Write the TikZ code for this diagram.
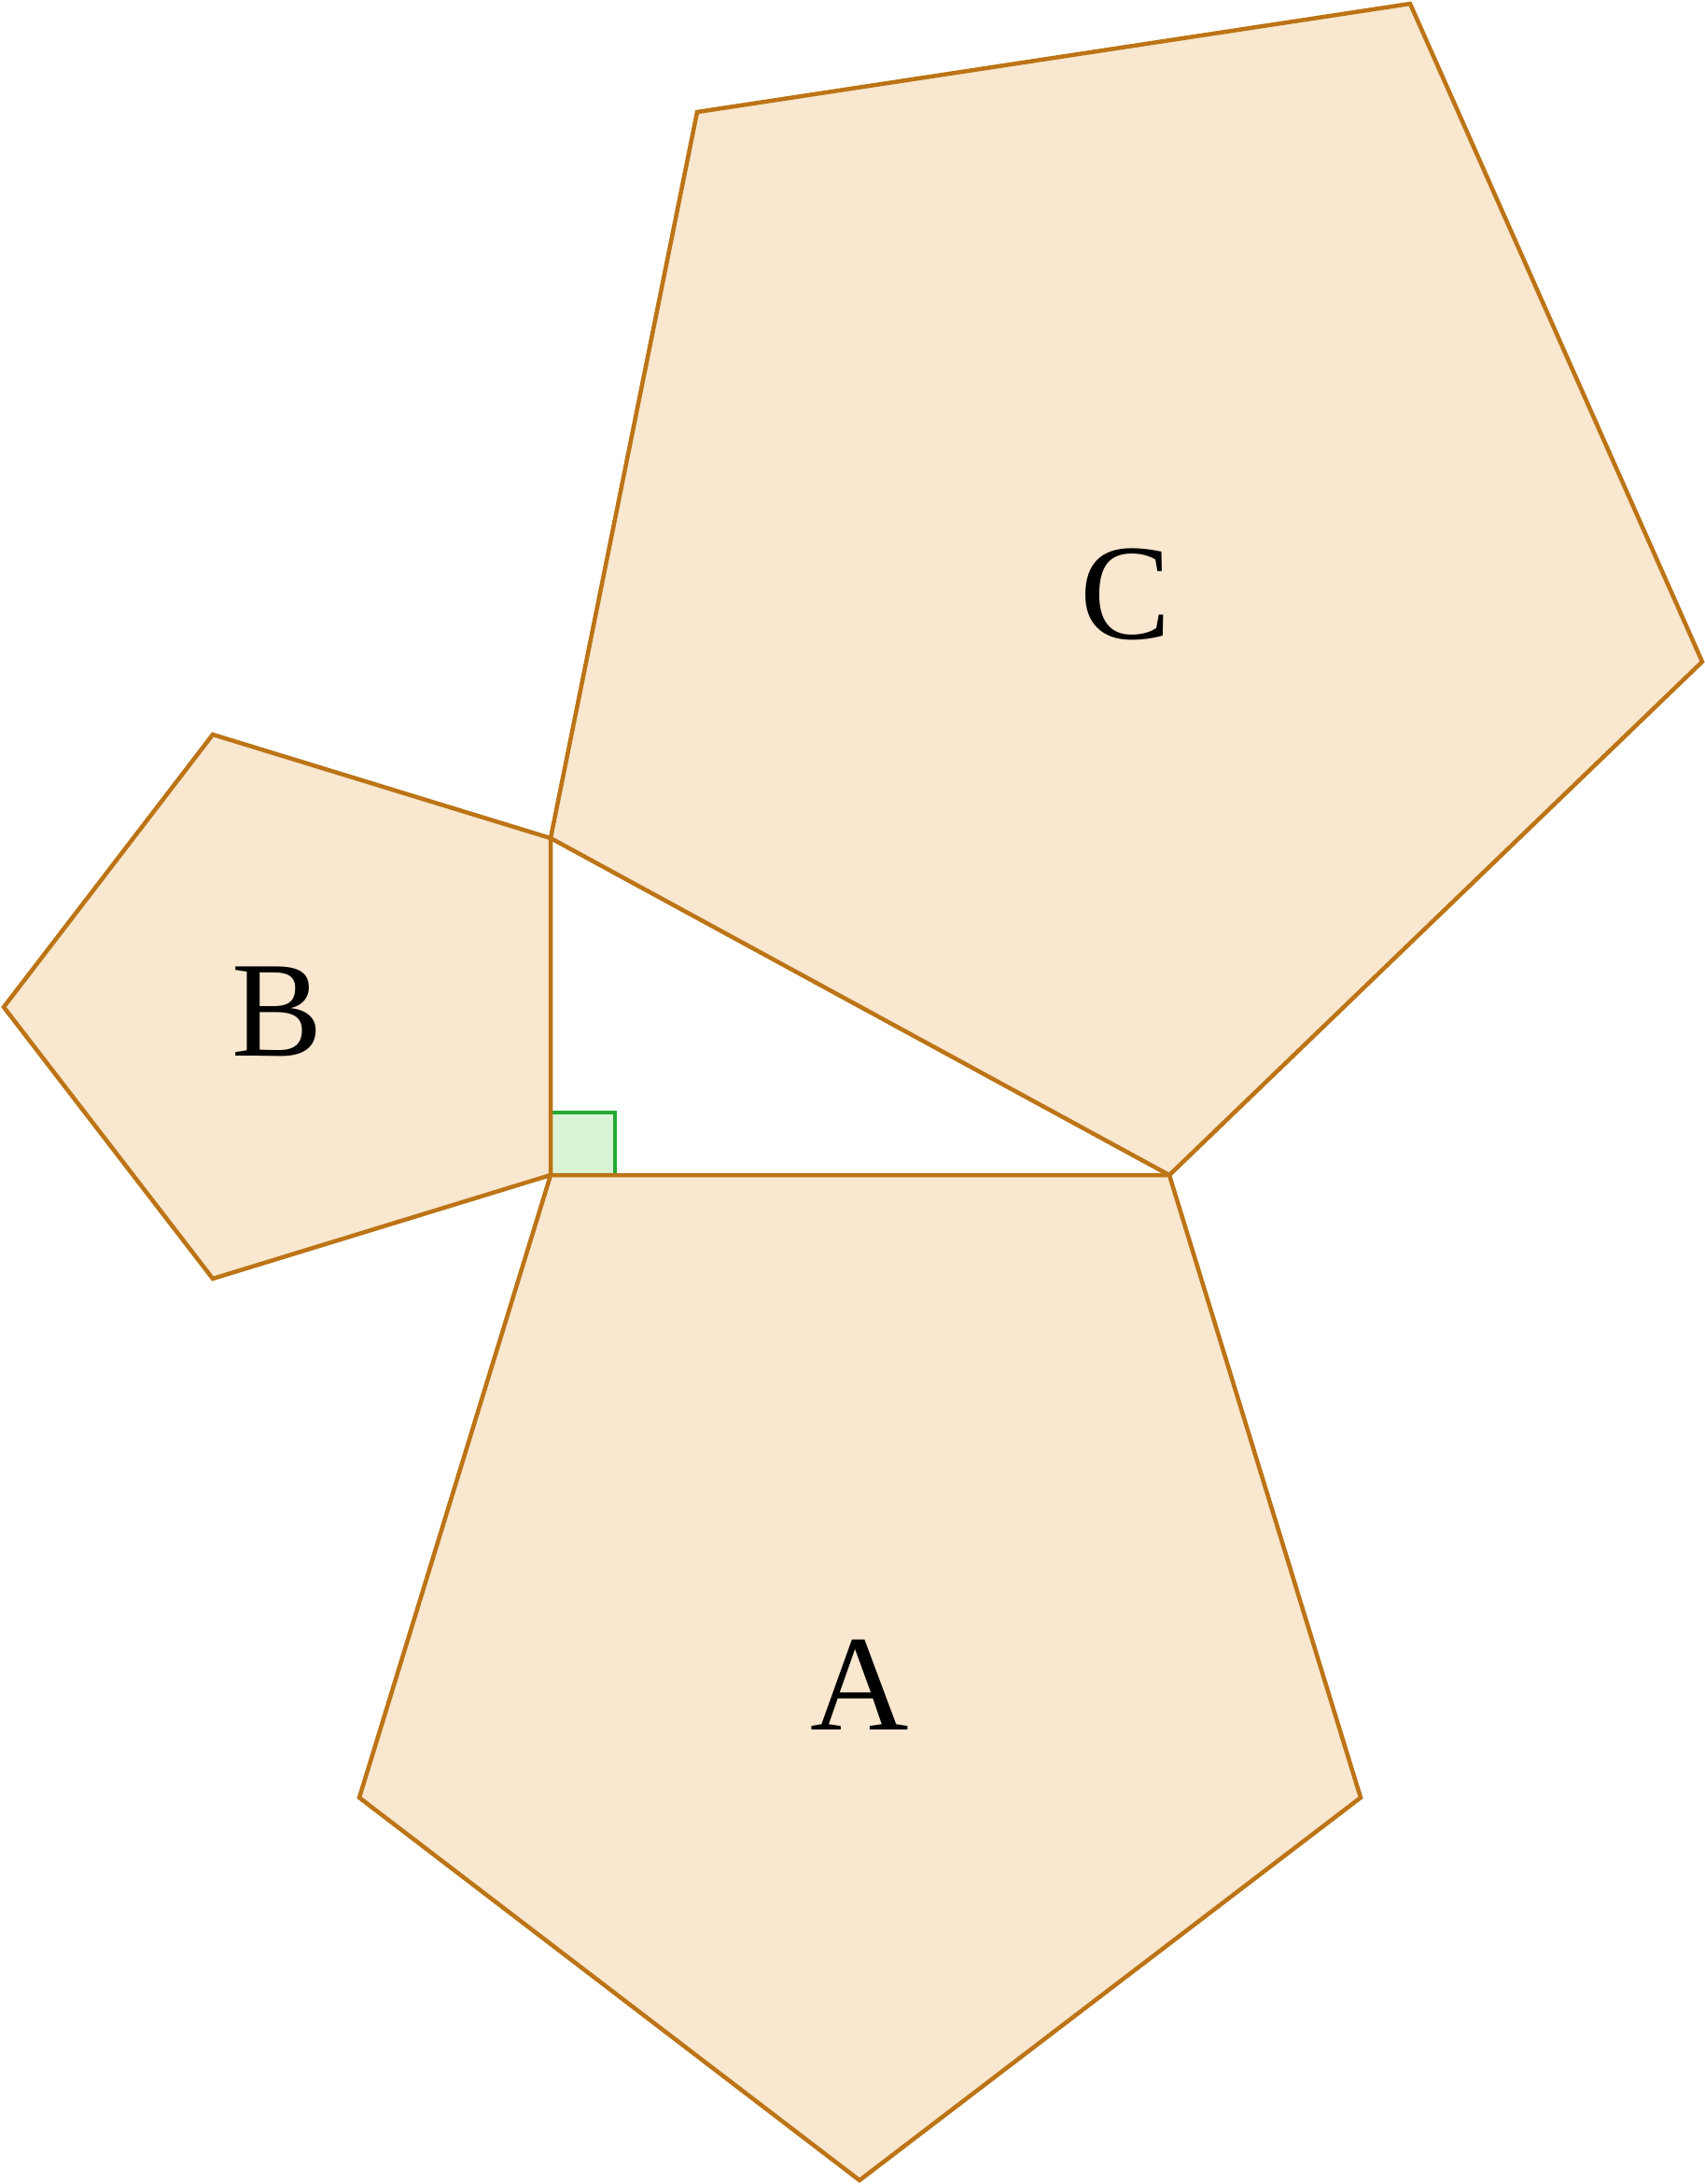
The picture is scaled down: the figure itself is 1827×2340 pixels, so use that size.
\documentclass[tikz,border=0pt]{standalone}
\usepackage{fontspec}
\setmainfont{Liberation Serif}
\definecolor{edgeor}{RGB}{188,116,22}
\definecolor{fillor}{RGB}{249,231,207}
\definecolor{rgreen}{RGB}{34,170,50}
\definecolor{rgfill}{RGB}{218,245,214}
\begin{document}
\begin{tikzpicture}[x=1pt,y=-1pt,
  penta/.style={draw=edgeor,fill=fillor,line width=4.5pt,line join=miter},
  rmark/.style={draw=rgreen,fill=rgfill,line width=4pt},
  lab/.style={font=\fontsize{146}{150}\selectfont,inner sep=0pt,text=black}]
\useasboundingbox (0,0) rectangle (1827,2340);
% triangle vertices
\coordinate (P) at (590,1259);
\coordinate (Q) at (590,898);
\coordinate (R) at (1253,1259);
% pentagon C
\coordinate (C1) at (747,120);
\coordinate (C2) at (1511,4);
\coordinate (C3) at (1824,709);
% pentagon B
\coordinate (B1) at (228,787);
\coordinate (B2) at (4,1079);
\coordinate (B3) at (228,1370);
% pentagon A
\coordinate (A1) at (1458,1926);
\coordinate (A2) at (921,2336);
\coordinate (A3) at (385,1926);
% right-angle mark
\coordinate (S1) at (659,1259);
\coordinate (S2) at (659,1192);
\coordinate (S3) at (590,1192);
\path[rmark] (P) -- (S1) -- (S2) -- (S3) -- cycle;
% pentagons
\path[penta] (Q) -- (C1) -- (C2) -- (C3) -- (R) -- cycle;
\path[penta] (P) -- (Q) -- (B1) -- (B2) -- (B3) -- cycle;
\path[penta] (P) -- (R) -- (A1) -- (A2) -- (A3) -- cycle;
% labels
\node[lab] (labC) at (1206,637) {C};
\node[lab] (labB) at (297,1084) {B};
\node[lab] (labA) at (921,1805) {A};
\end{tikzpicture}
\end{document}
